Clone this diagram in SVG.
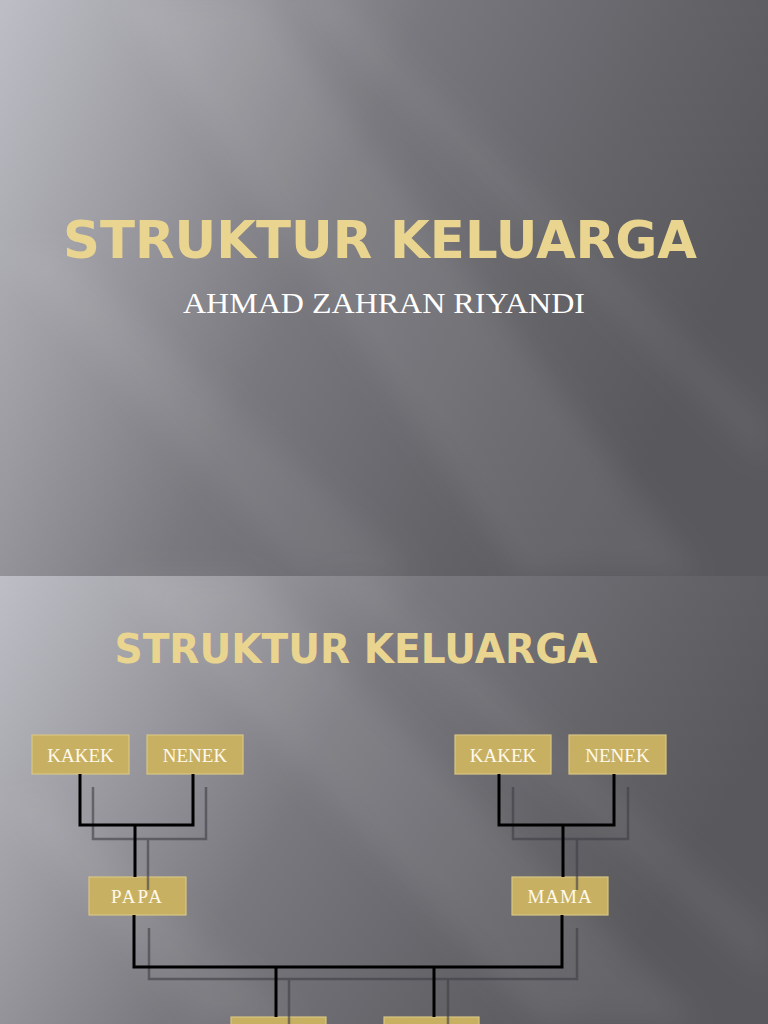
<svg xmlns="http://www.w3.org/2000/svg" width="768" height="1024" viewBox="0 0 768 1024">
<defs>
<linearGradient id="bg" x1="0" y1="0" x2="1" y2="0.35">
<stop offset="0" stop-color="#BEBEC6"/>
<stop offset="0.25" stop-color="#9C9CA2"/>
<stop offset="0.5" stop-color="#79787E"/>
<stop offset="0.8" stop-color="#646368"/>
<stop offset="1" stop-color="#59585D"/>
</linearGradient>
<filter id="blur" x="-20%" y="-20%" width="140%" height="140%"><feGaussianBlur stdDeviation="14"/></filter>
<style>
.title{font-family:"DejaVu Sans",sans-serif;font-weight:bold;fill:#E9D590;text-anchor:middle}
.sub{font-family:"Liberation Serif",serif;fill:#FFFFFF;text-anchor:middle}
.box{fill:#C8B062;stroke:#D8C684;stroke-width:1.2}
.lbl{font-family:"Liberation Serif",serif;font-size:19px;fill:#FFF9EA;text-anchor:middle}
.ln{fill:none;stroke:#000;stroke-width:3}
.sh{fill:none;stroke:#3E3D44;stroke-opacity:0.6;stroke-width:2.5}
</style>
</defs>
<g id="slide1-bg">
<rect x="0" y="0" width="768" height="576" fill="url(#bg)"/>
<g filter="url(#blur)" fill="#FFFFFF">
<polygon points="120,0 260,0 700,576 520,576" opacity="0.07"/>
<polygon points="0,250 60,250 420,576 300,576" opacity="0.06"/>
<polygon points="300,0 340,0 768,420 768,470" opacity="0.05"/>
</g>
</g>
<g id="slide2-bg">
<rect x="0" y="576" width="768" height="448" fill="url(#bg)"/>
<g filter="url(#blur)" fill="#FFFFFF">
<polygon points="120,576 250,576 700,1024 540,1024" opacity="0.07"/>
<polygon points="0,800 50,800 300,1024 200,1024" opacity="0.06"/>
<polygon points="330,576 370,576 768,930 768,980" opacity="0.05"/>
</g>
</g>
<g id="title1"><text class="title" x="380" y="258" font-size="51" textLength="634" lengthAdjust="spacingAndGlyphs">STRUKTUR KELUARGA</text></g>
<g id="subtitle"><text class="sub" x="384" y="313" font-size="29" textLength="402" lengthAdjust="spacingAndGlyphs">AHMAD ZAHRAN RIYANDI</text></g>
<g id="title2"><text class="title" x="356" y="663" font-size="41" textLength="483" lengthAdjust="spacingAndGlyphs">STRUKTUR KELUARGA</text></g>
<g id="kakek-left"><rect class="box" x="32" y="735" width="97" height="39"/><text class="lbl" x="80.5" y="762">KAKEK</text></g>
<g id="nenek-left"><rect class="box" x="147" y="735" width="96" height="39"/><text class="lbl" x="195" y="762">NENEK</text></g>
<g id="kakek-right"><rect class="box" x="455" y="735" width="96" height="39"/><text class="lbl" x="503" y="762">KAKEK</text></g>
<g id="nenek-right"><rect class="box" x="569" y="735" width="97" height="39"/><text class="lbl" x="617.5" y="762">NENEK</text></g>
<g id="papa"><rect class="box" x="89" y="877" width="97" height="38"/><text class="lbl" x="137.5" y="903" letter-spacing="2">PAPA</text></g>
<g id="mama"><rect class="box" x="512" y="877" width="96" height="38"/><text class="lbl" x="560" y="903" letter-spacing="1">MAMA</text></g>
<g id="child1"><rect class="box" x="231" y="1017" width="95" height="20"/></g>
<g id="child2"><rect class="box" x="384" y="1017" width="95" height="20"/></g>
<g id="connectors">
<path class="sh" d="M93,787 V839 H206 V787 M148,839 V890"/>
<path class="sh" d="M513,787 V839 H628 V787 M577,839 V890"/>
<path class="sh" d="M149,928 V979 H577 V928 M289,979 V1030 M448,979 V1030"/>
<path class="ln" d="M80,774 V825 H193 V774 M135,825 V877"/>
<path class="ln" d="M499,774 V825 H614 V774 M563,825 V877"/>
<path class="ln" d="M134,915 V967 H562 V915 M276,967 V1017 M434,967 V1017"/>
</g>
</svg>
